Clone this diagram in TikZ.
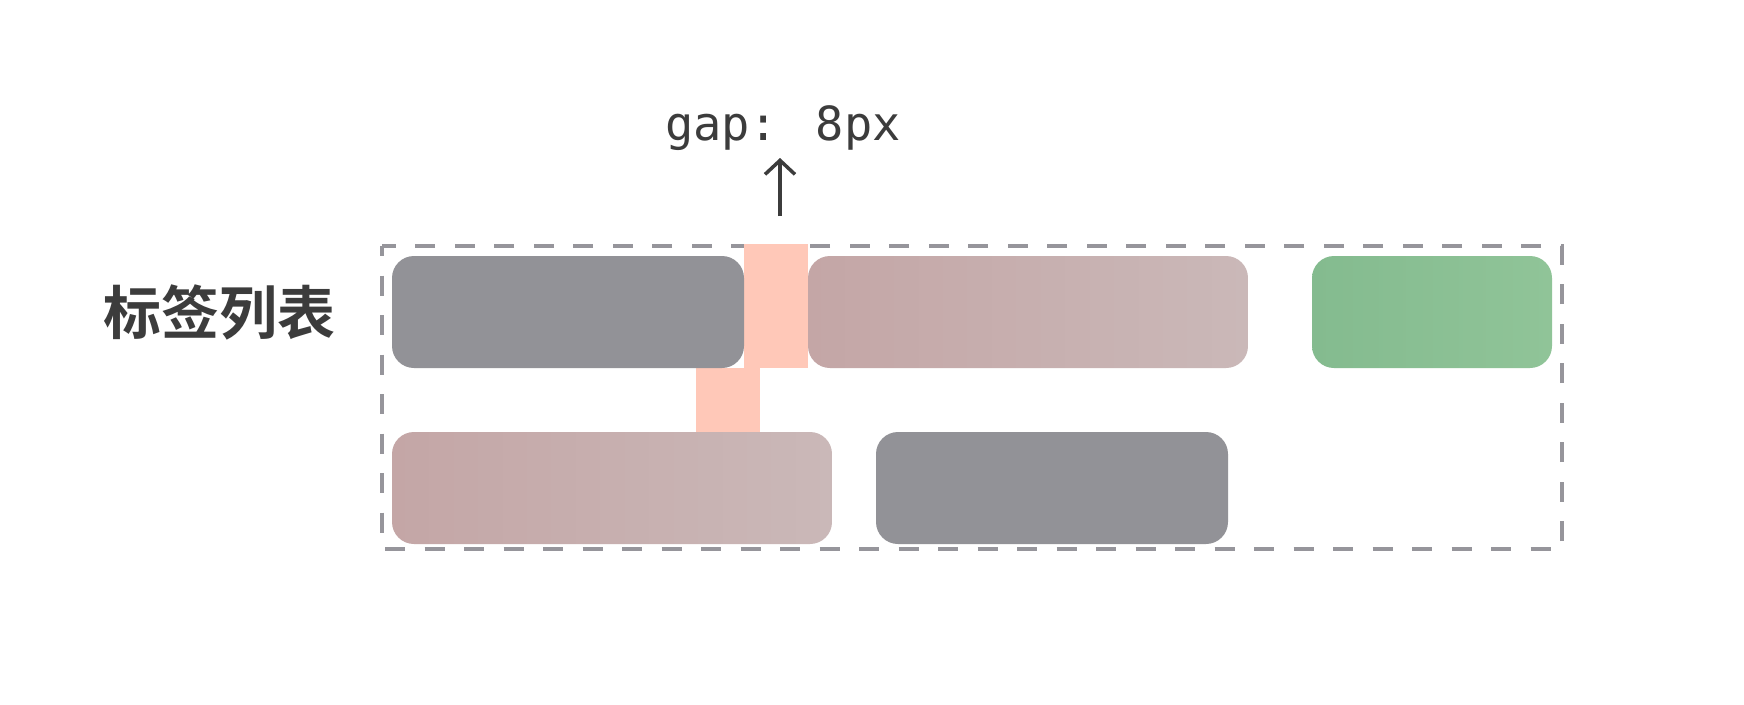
\documentclass[tikz,border=0pt]{standalone}
\usepackage{fontspec}
\usetikzlibrary{arrows.meta}
\newfontfamily\cjkfont{Noto Sans CJK SC}[BoldFont={Noto Sans CJK SC Bold}]
\newfontfamily\monofont{DejaVu Sans Mono}
\definecolor{txt}{HTML}{3C3C3C}
\definecolor{dashc}{HTML}{96959B}
\definecolor{grayb}{HTML}{929297}
\definecolor{roseL}{HTML}{C4A6A6}
\definecolor{roseR}{HTML}{CAB8B8}
\definecolor{greenL}{HTML}{84BB8F}
\definecolor{greenR}{HTML}{90C498}
\definecolor{salmon}{HTML}{FFC8B8}
\tikzset{
  tagbox/.style={rounded corners=22pt, draw=none},
  graytag/.style={tagbox, fill=grayb},
  rosetag/.style={tagbox, left color=roseL, right color=roseR},
  greentag/.style={tagbox, left color=greenL, right color=greenR},
  gapfill/.style={fill=salmon, draw=none},
  frame/.style={draw=dashc, line width=3.2pt, dash pattern=on 20pt off 19.5pt, dash phase=10pt},
  lbl/.style={text=txt, inner sep=0pt},
  pointer/.style={draw=txt, line width=3.5pt, -{Straight Barb[length=14pt,width=30pt,line width=3.5pt]}}
}
\begin{document}
\begin{tikzpicture}[x=1pt,y=-1pt]
\useasboundingbox (0,0) rectangle (1744,704);
\fill[white] (0,0) rectangle (1744,704);
% dashed container
\draw[frame] (382,246) rectangle (1562,549);
% gap highlights
\path[gapfill] (744,244) rectangle (808,368);
\path[gapfill] (696,368) rectangle (760,432);
% tags
\path[graytag] (392,256) rectangle (744,368);
\path[rosetag] (808,256) rectangle (1248,368);
\path[greentag] (1312,256) rectangle (1552,368);
\path[rosetag] (392,432) rectangle (832,544);
\path[graytag] (876,432) rectangle (1228,544);
% labels
\node[lbl, font=\cjkfont\bfseries\fontsize{58}{64}\selectfont] (title) at (219,312) {标签列表};
\node[lbl, font=\monofont\fontsize{47}{56}\selectfont, anchor=base] (gap) at (783,140) {gap: 8px};
\coordinate (gapfoot) at (780,216);
\coordinate (gaptip) at (780,158);
\draw[pointer] (gapfoot) -- (gaptip);
\end{tikzpicture}
\end{document}
